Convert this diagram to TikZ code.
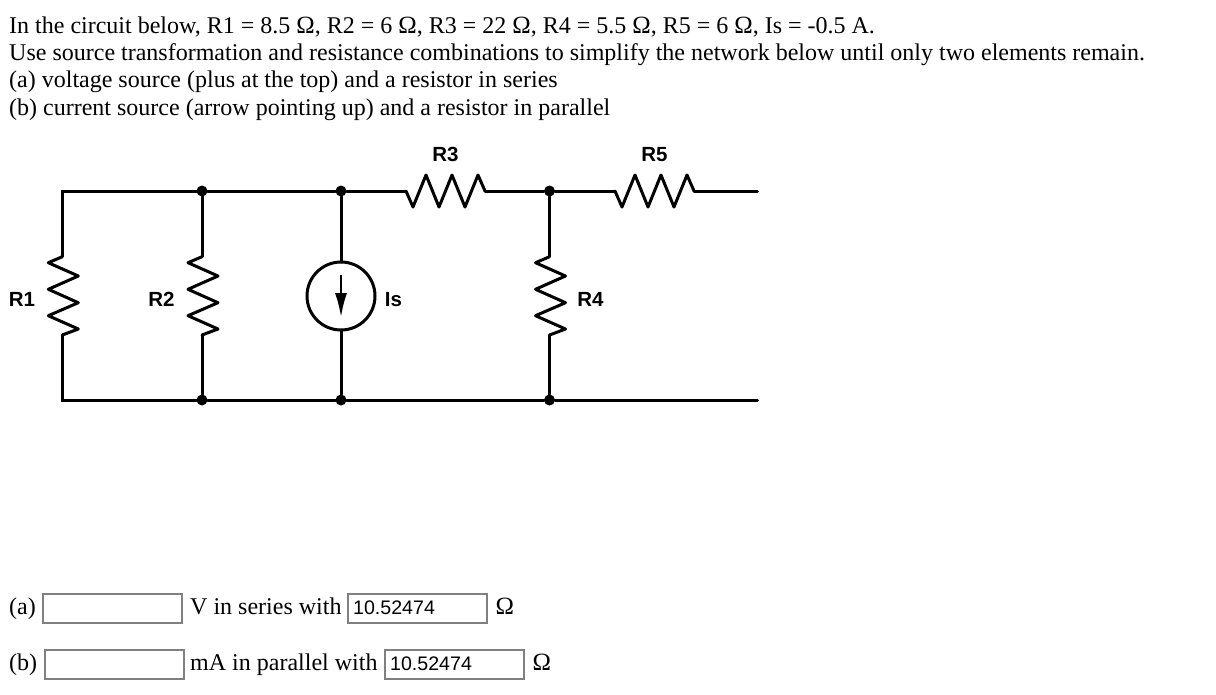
\documentclass[tikz,border=0pt]{standalone}
\usepackage{fontspec}
\setmainfont{Liberation Serif}
\setsansfont{Liberation Sans}
\usetikzlibrary{%
  arrows.meta%
}
\newcommand{\ohm}{{\fontsize{24.8}{24.8}\selectfont Ω}}
\tikzset{%
  wire/.style={line width=3pt,line cap=round},
  zig/.style={line width=3pt,line join=round,line cap=round},
  dot/.style={circle,fill=black,inner sep=0pt,outer sep=0pt,minimum size=11pt},
  txt/.style={anchor=base west,inner sep=0pt,font=\fontsize{24}{24}\selectfont},
  lbl/.style={anchor=base,inner sep=0pt,font=\sffamily\bfseries\fontsize{20.5}{20.5}\selectfont},
  val/.style={anchor=base west,inner sep=0pt,font=\sffamily\fontsize{19.6}{19.6}\selectfont},
  inbox/.style={draw=black!50,line width=2pt,minimum width=139pt,minimum height=29pt,inner sep=0pt,outer sep=0pt,anchor=north west},
  vres/.pic={
    \draw[zig] (0,0) -- ++(-14,6) -- ++(30,13.3) -- ++(-30,13.3) -- ++(30,13.4) -- ++(-30,13) -- ++(30,13.3) -- ++(-16,6);
    \coordinate (-a) at (0,0);
    \coordinate (-b) at (0,78.3);
  },
  hres/.pic={
    \draw[zig] (0,0) -- ++(7,16) -- ++(13,-32) -- ++(13,32) -- ++(13,-32) -- ++(13,32) -- ++(13,-32) -- ++(7,16);
    \coordinate (-a) at (0,0);
    \coordinate (-b) at (79,0);
  }
}
\begin{document}
\begin{tikzpicture}[x=1pt,y=-1pt]
  \useasboundingbox (0,0) rectangle (1216,694);
  % question text
  \node[txt] (line1) at (9,33) {In the circuit below, R1 = 8.5 \ohm, R2 = 6 \ohm, R3 = 22 \ohm, R4 = 5.5 \ohm, R5 = 6 \ohm, Is = -0.5 A.};
  \node[txt] (line2) at (9,60) {Use source transformation and resistance combinations to simplify the network below until only two elements remain.};
  \node[txt] (line3) at (9,87) {(a) voltage source (plus at the top) and a resistor in series};
  \node[txt] (line4) at (9,115) {(b) current source (arrow pointing up) and a resistor in parallel};
  % junctions
  \coordinate (tr) at (757.5,191);
  \coordinate (br) at (757.5,400);
  \node[dot] (t2) at (202,191) {};
  \node[dot] (t3) at (341,191) {};
  \node[dot] (t4) at (549.5,191) {};
  \node[dot] (b2) at (202,400) {};
  \node[dot] (b3) at (341,400) {};
  \node[dot] (b4) at (549.5,400) {};
  % resistors
  \pic (r1) at (62.3,256.7) {vres};
  \pic (r2) at (202,256.7) {vres};
  \pic (r4) at (549.5,256.7) {vres};
  \pic (r3) at (406,191) {hres};
  \pic (r5) at (615,191) {hres};
  % source
  \node[draw,circle,line width=3pt,minimum size=68pt,inner sep=0pt,outer sep=0pt] (is) at (341,296) {};
  \coordinate (ista) at (341,275);
  \coordinate (istb) at (341,317);
  \draw[line width=2pt,-{Latex[length=24pt,width=12pt]}] (ista) -- (istb);
  % wires
  \draw[wire] (r1-a) |- (t2);
  \draw[wire] (t2) -- (t3);
  \draw[wire] (t3) -- (r3-a);
  \draw[wire] (r3-b) -- (t4);
  \draw[wire] (t4) -- (r5-a);
  \draw[wire] (r5-b) -- (tr);
  \draw[wire] (r1-b) |- (b2);
  \draw[wire] (b2) -- (b3);
  \draw[wire] (b3) -- (b4);
  \draw[wire] (b4) -- (br);
  \draw[wire] (t2) -- (r2-a);
  \draw[wire] (r2-b) -- (b2);
  \draw[wire] (t3) -- (is);
  \draw[wire] (is) -- (b3);
  \draw[wire] (t4) -- (r4-a);
  \draw[wire] (r4-b) -- (b4);
  % labels
  \node[lbl] (lr1) at (22,306) {R1};
  \node[lbl] (lr2) at (161.5,306) {R2};
  \node[lbl] (lr3) at (445.5,161.5) {R3};
  \node[lbl] (lr4) at (590.5,306) {R4};
  \node[lbl] (lr5) at (654.5,161.5) {R5};
  \node[lbl] (lis) at (393.5,306) {Is};
  % answer rows
  \node[txt] (pa) at (9,614) {(a)};
  \node[inbox] (boxa) at (43,593.5) {};
  \node[txt] (ta) at (190,614) {V in series with};
  \node[inbox] (valaa) at (348,593.5) {};
  \node[val] (vala) at (353,614) {10.52474};
  \node[txt] (oa) at (495.5,614) {\ohm};
  \node[txt] (pb) at (9,670) {(b)};
  \node[inbox] (boxb) at (45,649.5) {};
  \node[txt] (tb) at (190,670) {mA in parallel with};
  \node[inbox] (valbb) at (385,649.5) {};
  \node[val] (valb) at (390,670) {10.52474};
  \node[txt] (ob) at (532.5,670) {\ohm};
\end{tikzpicture}
\end{document}
